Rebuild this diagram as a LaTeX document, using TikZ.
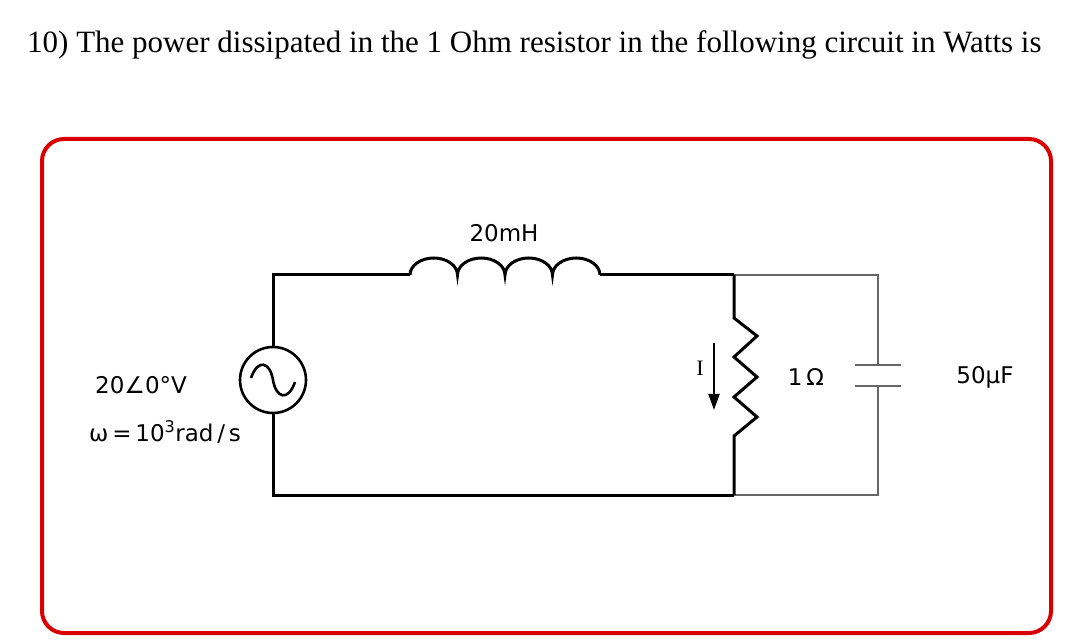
\documentclass[tikz,border=0pt]{standalone}
\usepackage{fontspec}
\setmainfont{Liberation Serif}
\newfontfamily\lblfont{DejaVu Sans}
\usetikzlibrary{arrows.meta}
\begin{document}
\begin{tikzpicture}[x=1pt,y=-1pt,
  wire/.style={line width=3pt,black},
  gwire/.style={line width=2.8pt,black!60},
  lbl/.style={font=\lblfont\fontsize{23}{26}\selectfont,inner sep=0pt}]
\useasboundingbox (0,0) rectangle (1080,644);
\fill[white] (0,0) rectangle (1080,644);
\node[anchor=west,inner sep=0pt,font=\fontsize{31}{34}\selectfont] (title) at (27,45) {10) The power dissipated in the 1 Ohm resistor in the following circuit in Watts is};
\draw[red!85!black,line width=4pt,rounded corners=22pt] (42,139) rectangle (1051,633);
% coordinates
\coordinate (tl) at (273,275);
\coordinate (bl) at (273,495);
\coordinate (l1) at (410,275);
\coordinate (l2) at (600,275);
\coordinate (rt) at (734,275);
\coordinate (rb) at (734,495);
\coordinate (ct) at (878,275);
\coordinate (cb) at (878,495);
\node[circle,draw,line width=2.6pt,minimum size=66pt,inner sep=0pt] (src) at (273,380) {};
\draw[line width=2.6pt] (251,378) .. controls (258,358) and (270,362) .. (273,380) .. controls (276,398) and (288,402) .. (295,382);
\draw[wire] (src.north) -- (tl) -- (l1);
\draw[wire] (l1) arc(180:360:23.75 and 17) arc(180:360:23.75 and 17) arc(180:360:23.75 and 17) arc(180:360:23.75 and 17);
\draw[wire] (l2) -- (rt);
\draw[gwire] (rt) -- (ct) -- (878,365);
\draw[gwire] (855,365) -- (901,365);
\draw[gwire] (855,386) -- (901,386);
\draw[gwire] (878,386) -- (cb) -- (rb);
\draw[wire] (src.south) -- (bl) -- (rb);
\draw[wire] (rt) -- (734,318) -- (757,336) -- (734,357) -- (757,377) -- (734,397) -- (757,417) -- (734,436) -- (rb);
\coordinate (a1) at (714,343);
\coordinate (a2) at (714,410);
\draw[line width=2pt,-{Triangle[length=16pt,width=11pt]}] (a1) -- (a2);
\node[inner sep=0pt,font=\fontsize{22}{24}\selectfont] (I) at (700,368) {I};
\node[lbl] (Lab) at (504,233) {20mH};
\node[lbl] (Rlab) at (806,377) {1\,Ω};
\node[lbl] (Clab) at (985,377) {50µF};
\node[lbl,anchor=west] (V) at (95,385) {20∠0°V};
\node[lbl,anchor=west] (w) at (89,432) {ω\,=\,10\textsuperscript{3}rad\,/\,s};
\end{tikzpicture}
\end{document}
